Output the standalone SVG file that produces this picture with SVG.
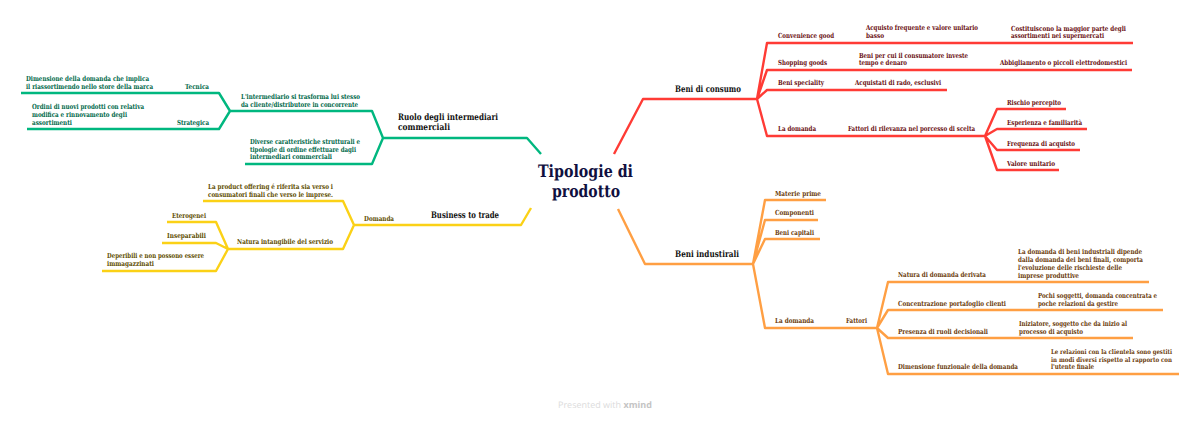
<svg xmlns="http://www.w3.org/2000/svg" width="1200" height="425" viewBox="0 0 1200 425">
<style>
text{font-family:"DejaVu Serif","Liberation Serif",serif;font-weight:700;font-size:7px;text-rendering:geometricPrecision}
path{fill:none;stroke-width:2.4;stroke-linejoin:round}
.g{stroke:#00b77f}.y{stroke:#fbd116}.r{stroke:#ff3b35}.o{stroke:#ff9f43}
.tg{fill:#00694a}.ty{fill:#5e4d00}.tr{fill:#6a0f12}.to{fill:#6b3c0c}
.sm{font-size:6.5px}
.main{fill:#111;font-size:9px}
.title{fill:#10103f;font-size:17px}
.wm{fill:#dcdcdc;font-family:"Open Sans",sans-serif;font-weight:400;font-size:9px}
.wm2{fill:#c4c4c4;font-family:"Open Sans",sans-serif;font-weight:700;font-size:9px}
</style>
<rect width="1200" height="425" fill="#fff"/>
<g id="connectors">
<path class="g" d="M541 154L527 138H383M383 138L372 111H230M383 138L372 164H245M230 111L219 93H21M230 111L219 129H27"/>
<path class="y" d="M531 208L521 225H354M354 225L343 201H203M354 225L343 249H228M228 249L216 222H167M228 249L216 243H162M228 249L216 271H102"/>
<path class="r" d="M614 154L643 99H757M757 99L767 43H1133M757 99L767 70H1132M757 99L767 90H947M757 99L767 136H985M985 136L997 109H1066M985 136L997 129H1087M985 136L997 150H1080M985 136L997 170H1059"/>
<path class="o" d="M618 209L645 264H753M753 264L765 200H826M753 264L765 220H818M753 264L765 239H820M753 264L765 328H877M877 328L888 282H1149M877 328L888 310H1163M877 328L888 338H1133M877 328L888 374H1179"/>
</g>
<g id="root"><text class="title" x="538" y="177" textLength="95" lengthAdjust="spacingAndGlyphs">Tipologie di</text><text class="title" x="552" y="197" textLength="68" lengthAdjust="spacingAndGlyphs">prodotto</text></g>
<g id="ruolo"><text class="main" x="398" y="120" textLength="100" lengthAdjust="spacingAndGlyphs">Ruolo degli intermediari</text><text class="main" x="398" y="130" textLength="52" lengthAdjust="spacingAndGlyphs">commerciali</text></g>
<g id="intermediario"><text class="tg" x="241" y="98.5" textLength="119" lengthAdjust="spacingAndGlyphs">L'intermediario si trasforma lui stesso</text><text class="tg" x="241" y="106.5" textLength="117" lengthAdjust="spacingAndGlyphs">da cliente/distributore in concorrente</text></g>
<g id="diverse"><text class="tg" x="250" y="144" textLength="110" lengthAdjust="spacingAndGlyphs">Diverse caratteristiche strutturali e</text><text class="tg" x="250" y="151.5" textLength="106" lengthAdjust="spacingAndGlyphs">tipologie di ordine effettuare dagli</text><text class="tg" x="250" y="159" textLength="82" lengthAdjust="spacingAndGlyphs">intermediari commerciali</text></g>
<g id="tecnica"><text class="tg" x="185" y="88.5" textLength="24" lengthAdjust="spacingAndGlyphs">Tecnica</text></g>
<g id="dimensione-domanda"><text class="tg" x="26" y="80.5" textLength="123" lengthAdjust="spacingAndGlyphs">Dimensione della domanda che implica</text><text class="tg" x="26" y="88.5" textLength="127" lengthAdjust="spacingAndGlyphs">il riassortimendo nello store della marca</text></g>
<g id="strategica"><text class="tg" x="177" y="124.5" textLength="32" lengthAdjust="spacingAndGlyphs">Strategica</text></g>
<g id="ordini"><text class="tg" x="32" y="109" textLength="112" lengthAdjust="spacingAndGlyphs">Ordini di nuovi prodotti con relativa</text><text class="tg" x="32" y="116.5" textLength="95" lengthAdjust="spacingAndGlyphs">modifica e rinnovamento degli</text><text class="tg" x="32" y="124.5" textLength="40" lengthAdjust="spacingAndGlyphs">assortimenti</text></g>
<g id="b2t"><text class="main" x="431" y="218" textLength="68" lengthAdjust="spacingAndGlyphs">Business to trade</text></g>
<g id="domanda-y"><text class="ty" x="364" y="220.5" textLength="30" lengthAdjust="spacingAndGlyphs">Domanda</text></g>
<g id="offering"><text class="ty" x="208" y="189" textLength="125" lengthAdjust="spacingAndGlyphs">La product offering é riferita sia verso i</text><text class="ty" x="208" y="197" textLength="125" lengthAdjust="spacingAndGlyphs">consumatori finali che verso le imprese.</text></g>
<g id="natura-intangibile"><text class="ty" x="237" y="244" textLength="96" lengthAdjust="spacingAndGlyphs">Natura intangibile del servizio</text></g>
<g id="eterogenei"><text class="ty" x="172" y="217.5" textLength="34" lengthAdjust="spacingAndGlyphs">Eterogenei</text></g>
<g id="inseparabili"><text class="ty" x="167" y="237.5" textLength="39" lengthAdjust="spacingAndGlyphs">Inseparabili</text></g>
<g id="deperibili"><text class="ty" x="107" y="258" textLength="97" lengthAdjust="spacingAndGlyphs">Deperibili e non possono essere</text><text class="ty" x="107" y="266" textLength="47" lengthAdjust="spacingAndGlyphs">immagazzinati</text></g>
<g id="beni-consumo"><text class="main" x="675" y="91.5" textLength="66" lengthAdjust="spacingAndGlyphs">Beni di consumo</text></g>
<g id="convenience"><text class="tr" x="778" y="37.5" textLength="56" lengthAdjust="spacingAndGlyphs">Convenience good</text></g>
<g id="acquisto-freq"><text class="tr" x="866" y="30" textLength="112" lengthAdjust="spacingAndGlyphs">Acquisto frequente e valore unitario</text><text class="tr" x="866" y="37.5" textLength="18" lengthAdjust="spacingAndGlyphs">basso</text></g>
<g id="costituiscono"><text class="tr" x="1011" y="30.5" textLength="115" lengthAdjust="spacingAndGlyphs">Costituiscono la maggior parte degli</text><text class="tr" x="1011" y="38" textLength="93" lengthAdjust="spacingAndGlyphs">assortimenti nei supermercati</text></g>
<g id="shopping"><text class="tr" x="778" y="65" textLength="49" lengthAdjust="spacingAndGlyphs">Shopping goods</text></g>
<g id="beni-per-cui"><text class="tr" x="859" y="57.5" textLength="109" lengthAdjust="spacingAndGlyphs">Beni per cui il consumatore investe</text><text class="tr" x="859" y="65" textLength="48" lengthAdjust="spacingAndGlyphs">tempo e denaro</text></g>
<g id="abbigliamento"><text class="tr" x="1000" y="65" textLength="127" lengthAdjust="spacingAndGlyphs">Abbigliamento o piccoli elettrodomestici</text></g>
<g id="speciality"><text class="tr" x="778" y="84.5" textLength="46" lengthAdjust="spacingAndGlyphs">Beni speciality</text></g>
<g id="acquistati"><text class="tr" x="855" y="84.5" textLength="86" lengthAdjust="spacingAndGlyphs">Acquistati di rado, esclusivi</text></g>
<g id="domanda-r"><text class="tr" x="778" y="131" textLength="38" lengthAdjust="spacingAndGlyphs">La domanda</text></g>
<g id="fattori-r"><text class="tr" x="848" y="131" textLength="127" lengthAdjust="spacingAndGlyphs">Fattori di rilevanza nel porcesso di scelta</text></g>
<g id="rischio"><text class="tr" x="1007" y="104.5" textLength="54" lengthAdjust="spacingAndGlyphs">Rischio percepito</text></g>
<g id="esperienza"><text class="tr" x="1007" y="125" textLength="75" lengthAdjust="spacingAndGlyphs">Esperienza e familiarità</text></g>
<g id="frequenza"><text class="tr" x="1007" y="145.5" textLength="68" lengthAdjust="spacingAndGlyphs">Frequenza di acquisto</text></g>
<g id="valore"><text class="tr" x="1007" y="165.5" textLength="48" lengthAdjust="spacingAndGlyphs">Valore unitario</text></g>
<g id="beni-industriali"><text class="main" x="675" y="256.5" textLength="64" lengthAdjust="spacingAndGlyphs">Beni industirali</text></g>
<g id="materie"><text class="to" x="775" y="195.5" textLength="46" lengthAdjust="spacingAndGlyphs">Materie prime</text></g>
<g id="componenti"><text class="to" x="775" y="215" textLength="39" lengthAdjust="spacingAndGlyphs">Componenti</text></g>
<g id="capitali"><text class="to" x="775" y="234.5" textLength="39" lengthAdjust="spacingAndGlyphs">Beni capitali</text></g>
<g id="domanda-o"><text class="to" x="775" y="323" textLength="39" lengthAdjust="spacingAndGlyphs">La domanda</text></g>
<g id="fattori-o"><text class="to" x="846" y="323" textLength="21" lengthAdjust="spacingAndGlyphs">Fattori</text></g>
<g id="derivata"><text class="to" x="898" y="277" textLength="88" lengthAdjust="spacingAndGlyphs">Natura di domanda derivata</text></g>
<g id="derivata-testo"><text class="to" x="1018" y="254" textLength="124" lengthAdjust="spacingAndGlyphs">La domanda di beni industriali dipende</text><text class="to" x="1018" y="262" textLength="125" lengthAdjust="spacingAndGlyphs">dalla domanda dei beni finali, comporta</text><text class="to" x="1018" y="269.5" textLength="104" lengthAdjust="spacingAndGlyphs">l'evoluzione delle rischieste delle</text><text class="to" x="1018" y="277.5" textLength="61" lengthAdjust="spacingAndGlyphs">imprese produttive</text></g>
<g id="concentrazione"><text class="to" x="898" y="305.5" textLength="108" lengthAdjust="spacingAndGlyphs">Concentrazione portafoglio clienti</text></g>
<g id="pochi"><text class="to" x="1038" y="297.5" textLength="119" lengthAdjust="spacingAndGlyphs">Pochi soggetti, domanda concentrata e</text><text class="to" x="1038" y="305.5" textLength="80" lengthAdjust="spacingAndGlyphs">poche relazioni da gestire</text></g>
<g id="presenza"><text class="to" x="898" y="333.5" textLength="90" lengthAdjust="spacingAndGlyphs">Presenza di ruoli decisionali</text></g>
<g id="iniziatore"><text class="to" x="1019" y="325.5" textLength="108" lengthAdjust="spacingAndGlyphs">Iniziatore, soggetto che da inizio al</text><text class="to" x="1019" y="333.5" textLength="64" lengthAdjust="spacingAndGlyphs">processo di acquisto</text></g>
<g id="dimensione-funzionale"><text class="to" x="898" y="368.5" textLength="120" lengthAdjust="spacingAndGlyphs">Dimensione funzionale della domanda</text></g>
<g id="relazioni"><text class="to sm" x="1051" y="353.5" textLength="121" lengthAdjust="spacingAndGlyphs">Le relazioni con la clientela sono gestiti</text><text class="to sm" x="1051" y="361.5" textLength="121" lengthAdjust="spacingAndGlyphs">in modi diversi rispetto al rapporto con</text><text class="to" x="1051" y="369" textLength="43" lengthAdjust="spacingAndGlyphs">l'utente finale</text></g>
<g id="watermark"><text class="wm" x="558" y="408">Presented with <tspan class="wm2">xmind</tspan></text></g>
</svg>
